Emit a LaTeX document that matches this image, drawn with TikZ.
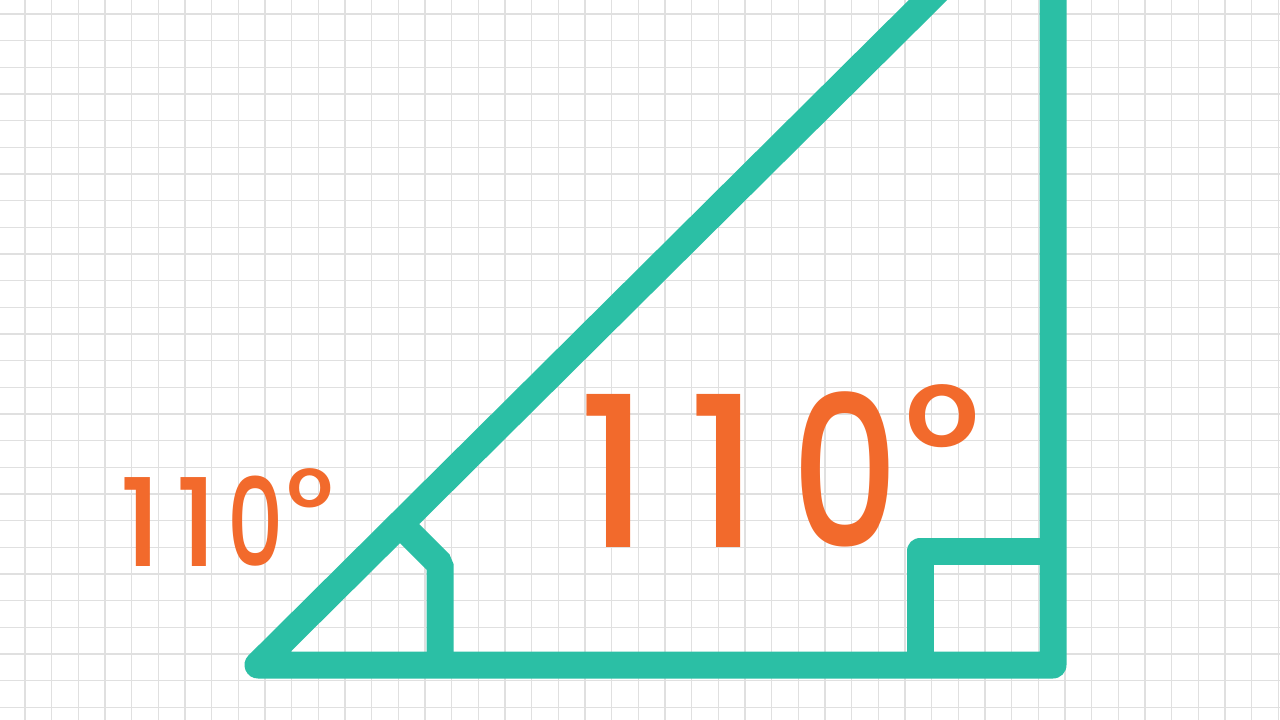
\documentclass[tikz,border=0pt]{standalone}
\usepackage{fontspec}
\setmainfont{Poppins}
\newfontfamily\degfont{Poppins Medium}
\newfontfamily\zerofont{Poppins Medium}[FakeStretch=0.8]
\newfontfamily\zerosmall{Poppins Medium}[FakeStretch=0.72]
\usetikzlibrary{positioning}
\definecolor{teal line}{HTML}{2BBFA5}
\definecolor{deg orange}{HTML}{F26A2C}
\definecolor{grid gray}{HTML}{E0E0E0}

\begin{document}
\begin{tikzpicture}[x=1pt,y=-1pt,
		grid line/.style={draw=grid gray,line width=1.3pt},
		main line/.style={draw=teal line,line width=27pt,line join=round,line cap=round},
		deg label/.style={text=deg orange,inner sep=0pt,anchor=south west}]
		\fill[white] (0,0) rectangle (1280,720);
		\useasboundingbox (0,0) rectangle (1280,720);
		\clip (0,0) rectangle (1280,720);
		% paper grid
		\foreach \i in {0,...,47}
		\draw[grid line] (25+26.667*\i,0) -- (25+26.667*\i,720);
		\foreach \j in {0,...,26}
		\draw[grid line] (0,14+26.667*\j) -- (1280,14+26.667*\j);
		% triangle
		\coordinate (A) at (258,665);
		\coordinate (B) at (1053,665);
		\coordinate (C) at (1053,-124);
		\draw[main line] (A) -- (B) -- (C) -- cycle;
		% right angle mark
		\coordinate (ra1) at (1053,551);
		\coordinate (ra2) at (920,551);
		\coordinate (ra3) at (920,665);
		\draw[main line,line cap=butt] (ra1) -- (ra2) -- (ra3);
		% angle mark at A
		\coordinate (am1) at (400,524);
		\coordinate (am2) at (440,564);
		\coordinate (am3) at (440,665);
		\draw[main line,line cap=butt,line join=bevel] (am1) -- (am2) -- (am3);
		% labels
		\node[deg label,font=\degfont\fontsize{210}{210}\selectfont] (big) at (577,548)
		{1\kern37pt1\kern30pt{\zerofont 0}\kern6pt{\fontsize{178}{178}\selectfont\raisebox{38pt}{°}}};
		\node[deg label,font=\degfont\fontsize{122}{122}\selectfont] (small) at (119,567)
		{1\kern14pt1\kern9pt{\zerosmall 0}\kern3pt{\fontsize{111}{111}\selectfont\raisebox{20pt}{°}}};
\end{tikzpicture}
\end{document}
